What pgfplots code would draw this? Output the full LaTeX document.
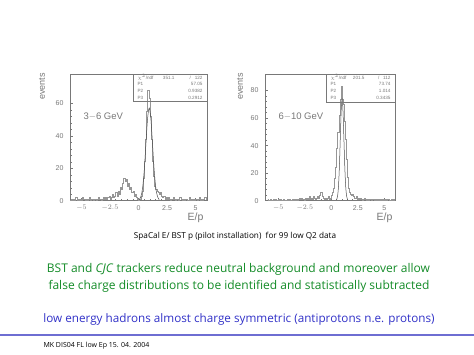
\documentclass[border=0pt]{standalone}
\usepackage{fontspec}
\setmainfont{Liberation Sans}
\newfontfamily\slide{Open Sans}
\usepackage{pgfplots}
\pgfplotsset{compat=1.18}
\usepackage{pgfplotstable}
\definecolor{slgreen}{RGB}{20,140,40}
\definecolor{slblue}{RGB}{50,50,200}
\definecolor{slrule}{RGB}{110,110,210}
\definecolor{axgray}{RGB}{120,120,120}
\definecolor{hgray}{RGB}{150,150,150}

\pgfplotstableread{
x y
-6.0 0
-5.9 1
-5.8 0
-5.7 1
-5.6 0
-5.5 2
-5.4 0
-5.3 1
-5.2 0
-5.1 1
-5.0 0
-4.9 2
-4.8 1
-4.7 0
-4.6 1
-4.5 0
-4.4 1
-4.3 2
-4.2 0
-4.1 1
-4.0 0
-3.9 1
-3.8 1
-3.7 0
-3.6 1
-3.5 2
-3.4 1
-3.3 0
-3.2 1
-3.1 2
-3.0 1
-2.9 2
-2.8 1
-2.7 2
-2.6 3
-2.5 1
-2.4 2
-2.3 4
-2.2 2
-2.1 3
-2.0 5
-1.9 3
-1.8 6
-1.7 4
-1.6 8
-1.5 7
-1.4 11
-1.3 14
-1.2 12
-1.1 13
-1.0 9
-0.9 11
-0.8 7
-0.7 8
-0.6 5
-0.5 6
-0.4 3
-0.3 4
-0.2 2
-0.1 1
0.0 0
0.1 1
0.2 3
0.3 6
0.4 14
0.5 24
0.6 38
0.7 55
0.8 68
0.9 63
1.0 52
1.1 38
1.2 24
1.3 15
1.4 9
1.5 7
1.6 6
1.7 5
1.8 4
1.9 5
2.0 3
2.1 2
2.2 3
2.3 1
2.4 2
2.5 1
2.6 2
2.7 1
2.8 0
2.9 1
3.0 2
3.1 1
3.2 0
3.3 1
3.4 1
3.5 0
3.6 2
3.7 1
3.8 0
3.9 1
4.0 0
4.1 1
4.2 1
4.3 0
4.4 2
4.5 0
4.6 1
4.7 0
4.8 1
4.9 0
5.0 1
5.1 0
5.2 1
5.3 2
5.4 0
5.5 1
5.6 0
5.7 1
5.8 2
5.9 1
6.0 1
}\histA

\pgfplotstableread{
x y
-6.0 1
-5.9 0
-5.8 1
-5.7 0
-5.6 0
-5.5 1
-5.4 0
-5.3 1
-5.2 0
-5.1 0
-5.0 1
-4.9 0
-4.8 1
-4.7 0
-4.6 0
-4.5 1
-4.4 0
-4.3 0
-4.2 1
-4.1 0
-4.0 1
-3.9 0
-3.8 0
-3.7 1
-3.6 0
-3.5 1
-3.4 0
-3.3 1
-3.2 0
-3.1 1
-3.0 2
-2.9 1
-2.8 2
-2.7 1
-2.6 0
-2.5 2
-2.4 1
-2.3 2
-2.2 1
-2.1 3
-2.0 1
-1.9 2
-1.8 1
-1.7 3
-1.6 2
-1.5 1
-1.4 2
-1.3 3
-1.2 2
-1.1 4
-1.0 6
-0.9 3
-0.8 2
-0.7 1
-0.6 2
-0.5 1
-0.4 2
-0.3 3
-0.2 1
-0.1 2
0.0 4
0.1 6
0.2 9
0.3 16
0.4 24
0.5 38
0.6 50
0.7 62
0.8 74
0.9 83
1.0 74
1.1 70
1.2 58
1.3 45
1.4 30
1.5 17
1.6 9
1.7 6
1.8 5
1.9 4
2.0 5
2.1 3
2.2 2
2.3 3
2.4 1
2.5 2
2.6 1
2.7 2
2.8 1
2.9 0
3.0 1
3.1 2
3.2 1
3.3 0
3.4 1
3.5 0
3.6 1
3.7 1
3.8 0
3.9 1
4.0 0
4.1 1
4.2 0
4.3 1
4.4 0
4.5 1
4.6 0
4.7 1
4.8 0
4.9 1
5.0 0
5.1 1
5.2 0
5.3 1
5.4 1
5.5 0
5.6 1
5.7 0
5.8 1
5.9 0
6.0 0
}\histB

\pgfplotsset{
  rootstyle/.style={
    scale only axis,
    anchor=south west,
    axis line style={axgray, line width=0.5pt},
    tick style={axgray, line width=0.4pt},
    tick align=inside,
    xtick pos=bottom, ytick pos=left,
    major tick length=3pt, minor tick length=1.5pt,
    xtick={-5,-2.5,0,2.5,5},
    xticklabels={$-5$,$-2.5$,0,2.5,5},
    minor x tick num=4,
    minor y tick num=4,
    ymin=0,
    ticklabel style={font=\fontsize{7}{8}\selectfont, text=axgray},
    /pgf/number format/assume math mode=true,
    xticklabel style={yshift=-1pt},
    yticklabel style={xshift=-3pt},
    clip=false,
  }
}

\begin{document}
\begin{tikzpicture}[x=1pt,y=1pt]
\useasboundingbox (0,0) rectangle (474,-355);
\fill[white] (0,0) rectangle (474,-355);

% Left histogram
\begin{axis}[rootstyle, at={(70pt,-200.7pt)}, width=137pt, height=126.7pt,
  xmin=-6, xmax=6, ymax=78, ytick={0,20,40,60}]
  \addplot[const plot, hgray, line width=0.45pt] table[x=x,y=y]{\histA};
  \addplot[smooth, black!70, line width=0.5pt] coordinates {
    (0.0646,0.63) (0.2102,2.50) (0.3558,7.72) (0.5014,18.52) (0.6470,34.60)
    (0.7926,50.35) (0.9382,57.05) (1.0838,50.35) (1.2294,34.60) (1.3750,18.52)
    (1.5206,7.72) (1.6662,2.50) (1.8118,0.63)};
\end{axis}

% Right histogram
\begin{axis}[rootstyle, at={(265pt,-200.7pt)}, width=130pt, height=126.7pt,
  xmin=-6.25, xmax=6, ymax=92, ytick={0,20,40,60,80}]
  \addplot[const plot, hgray, line width=0.45pt] table[x=x,y=y]{\histB};
  \addplot[smooth, black!70, line width=0.5pt] coordinates {
    (0.4988,0.82) (0.5846,3.24) (0.6705,9.98) (0.7564,23.94) (0.8426,44.72)
    (0.9281,65.08) (1.0140,73.74) (1.0999,65.08) (1.1858,44.72) (1.2716,23.94)
    (1.3575,9.98) (1.4434,3.24) (1.5293,0.82)};
\end{axis}

% axis titles
\node[rotate=90, text=axgray, font=\fontsize{9}{10}\selectfont] at (42,-86.5) {events};
\node[rotate=90, text=axgray, font=\fontsize{9}{10}\selectfont] at (240,-86.5) {events};
\node[anchor=east, text=axgray, font=\fontsize{10.5}{11}\selectfont] at (207,-218) {E/p};
\node[anchor=east, text=axgray, font=\fontsize{10.5}{11}\selectfont] at (396,-218) {E/p};

% energy labels
\node[anchor=west, text=axgray, font=\fontsize{9.5}{10}\selectfont] at (80,-116.7) {3$-$6 GeV};
\node[anchor=west, text=axgray, font=\fontsize{9.5}{10}\selectfont] at (275,-116.7) {6$-$10 GeV};

% stats boxes
\begin{scope}[font=\fontsize{4.6}{5}\selectfont, text=axgray]
\draw[axgray, line width=0.4pt] (133,-74) rectangle (207,-101.6);
\node[anchor=west] at (134,-77.5) {$\chi^2$/ndf};
\node[anchor=east] at (178,-77.5) {351.1};
\node[anchor=east] at (206,-77.5) {/\ \ \ 122};
\node[anchor=west] at (134,-84.3) {P1};
\node[anchor=east] at (206,-84.3) {57.05};
\node[anchor=west] at (134,-91.1) {P2};
\node[anchor=east] at (206,-91.1) {0.9382};
\node[anchor=west] at (134,-97.9) {P3};
\node[anchor=east] at (206,-97.9) {0.2912};
\draw[axgray, line width=0.4pt] (326,-74) rectangle (395,-102);
\node[anchor=west] at (327,-77.5) {$\chi^2$/ndf};
\node[anchor=east] at (368,-77.5) {201.5};
\node[anchor=east] at (394,-77.5) {/\ \ \ 112};
\node[anchor=west] at (327,-84.3) {P1};
\node[anchor=east] at (394,-84.3) {73.74};
\node[anchor=west] at (327,-91.1) {P2};
\node[anchor=east] at (394,-91.1) {1.014};
\node[anchor=west] at (327,-97.9) {P3};
\node[anchor=east] at (394,-97.9) {0.3435};
\end{scope}

% slide text
\node[font=\slide\fontsize{8.2}{9}\selectfont] at (235,-236.7) {SpaCal E/ BST p (pilot installation)\ \ for 99 low Q2 data};
\node[font=\slide\fontsize{12}{14}\selectfont, text=slgreen] at (238.5,-269.3) {BST and \textit{CJC} trackers reduce neutral background and moreover allow};
\node[font=\slide\fontsize{12}{14}\selectfont, text=slgreen] at (239,-286) {false charge distributions to be identified and statistically subtracted};
\node[font=\slide\fontsize{11.7}{14}\selectfont, text=slblue] at (239,-319.3) {low energy hadrons almost charge symmetric (antiprotons n.e. protons)};
\draw[slrule, line width=1.3pt] (0,-335) -- (474,-335);
\node[anchor=west, font=\slide\fontsize{7}{8}\selectfont] at (40,-345.7) {MK DIS04 FL low Ep 15. 04. 2004};
\end{tikzpicture}
\end{document}
